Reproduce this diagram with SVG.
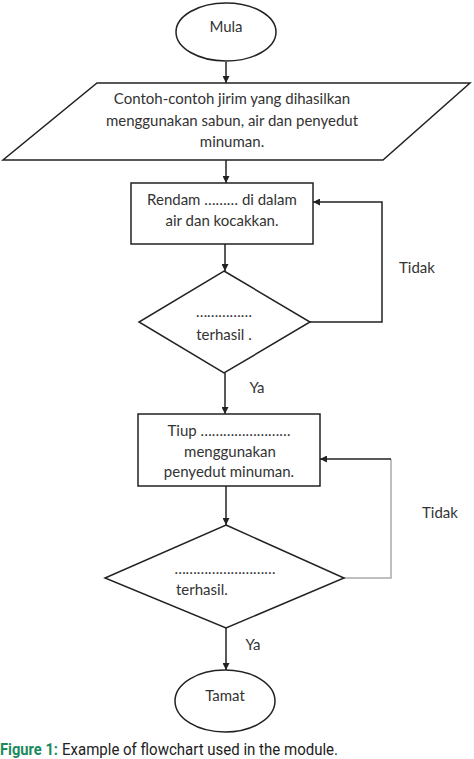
<svg xmlns="http://www.w3.org/2000/svg" width="474" height="759" viewBox="0 0 474 759">
<style>
.s{fill:#fff;stroke:#222;stroke-width:1.5}
.t{font-family:Lato,"Open Sans",sans-serif;font-size:15px;fill:#333;text-anchor:middle}
.c{fill:none;stroke:#222;stroke-width:1.5}
.g{fill:none;stroke:#aaa;stroke-width:1.5}
</style>
<defs>
<marker id="a" viewBox="0 0 10 10" refX="10" refY="5" markerWidth="7" markerHeight="7" markerUnits="userSpaceOnUse" orient="auto">
<path d="M0,0L10,5L0,10z" fill="#222"/>
</marker>
</defs>
<rect width="474" height="759" fill="#fff"/>
<g id="connectors">
<line class="c" x1="226" y1="62" x2="226" y2="83" marker-end="url(#a)"/>
<line class="c" x1="226" y1="160" x2="226" y2="183" marker-end="url(#a)"/>
<line class="c" x1="225" y1="244" x2="225" y2="271" marker-end="url(#a)"/>
<polyline class="c" points="310,322 382,322 382,202 313,202" marker-end="url(#a)"/>
<line class="c" x1="225" y1="373" x2="225" y2="414" marker-end="url(#a)"/>
<line class="c" x1="226" y1="486" x2="226" y2="525" marker-end="url(#a)"/>
<polyline class="g" points="344,578 391,578 391,459"/>
<line class="c" x1="391" y1="459" x2="320" y2="459" marker-end="url(#a)"/>
<line class="c" x1="226" y1="628" x2="226" y2="670" marker-end="url(#a)"/>
<text class="t" x="417" y="273">Tidak</text>
<text class="t" x="257" y="393">Ya</text>
<text class="t" x="440" y="518">Tidak</text>
<text class="t" x="253" y="650">Ya</text>
</g>
<g id="mula">
<ellipse class="s" cx="226" cy="32" rx="50" ry="29"/>
<text class="t" x="226" y="32">Mula</text>
</g>
<g id="input">
<polygon class="s" points="97,83 470,83 383,160 3,160"/>
<text class="t" x="232" y="104">Contoh-contoh jirim yang dihasilkan</text>
<text class="t" x="232" y="126">menggunakan sabun, air dan penyedut</text>
<text class="t" x="232" y="147">minuman.</text>
</g>
<g id="rendam">
<rect class="s" x="131" y="183" width="182" height="61"/>
<text class="t" x="222" y="205">Rendam ……… di dalam</text>
<text class="t" x="222" y="226">air dan kocakkan.</text>
</g>
<g id="decision1">
<polygon class="s" points="224,271 310,322 224,373 139,322"/>
<text class="t" x="224" y="317">……………</text>
<text class="t" x="224" y="340">terhasil .</text>
</g>
<g id="tiup">
<rect class="s" x="138" y="414" width="182" height="72"/>
<text class="t" x="229" y="436">Tiup ……………………</text>
<text class="t" x="230" y="457">menggunakan</text>
<text class="t" x="229" y="477">penyedut minuman.</text>
</g>
<g id="decision2">
<polygon class="s" points="226,525 344,578 226,628 105,578"/>
<text class="t" x="225" y="574">………………………</text>
<text class="t" x="176" y="595" style="text-anchor:start">terhasil.</text>
</g>
<g id="tamat">
<ellipse class="s" cx="225" cy="701" rx="50" ry="31"/>
<text class="t" x="225" y="701">Tamat</text>
</g>
<g id="caption">
<text x="0" y="755" font-family="Roboto,'Liberation Sans',sans-serif" font-size="16" fill="#222"><tspan fill="#1b8a5e" font-weight="bold" textLength="58" lengthAdjust="spacingAndGlyphs">Figure 1:</tspan><tspan dx="4" textLength="276" lengthAdjust="spacingAndGlyphs">Example of flowchart used in the module.</tspan></text>
</g>
</svg>
